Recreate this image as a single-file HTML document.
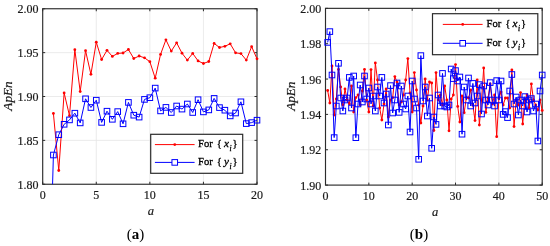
<!DOCTYPE html>
<html><head><meta charset="utf-8"><title>ApEn plots</title>
<style>
html,body{margin:0;padding:0;background:#fff;}
body{width:550px;height:246px;overflow:hidden;}
svg{display:block;}
.t{font-family:"Liberation Serif",serif;font-size:12.9px;fill:#1a1a1a;stroke:#1a1a1a;stroke-width:0.2px;}
.it{font-family:"Liberation Serif",serif;font-style:italic;font-size:12.5px;fill:#1a1a1a;stroke:#1a1a1a;stroke-width:0.2px;}
.yl{font-size:13.2px;}
.lg{font-family:"Liberation Serif",serif;font-size:10.6px;fill:#000;stroke:#000;stroke-width:0.3px;}
.li{font-style:italic;font-size:11.2px;}
.sub{font-size:7.6px;}
.cap{font-family:"Liberation Serif",serif;font-size:15px;fill:#000;}
.bd{font-weight:bold;}
</style></head>
<body>
<svg width="550" height="246" viewBox="0 0 550 246">
<defs>
<clipPath id="cl"><rect x="37.7" y="3.75" width="224.3" height="180.5"/></clipPath>
<clipPath id="cr"><rect x="320.5" y="3.3499999999999996" width="226.70000000000005" height="186.75"/></clipPath>
</defs>
<line x1="96.28" y1="8.75" x2="96.28" y2="184.25" stroke="#e6e6e6" stroke-width="0.8"/>
<line x1="149.85" y1="8.75" x2="149.85" y2="184.25" stroke="#e6e6e6" stroke-width="0.8"/>
<line x1="203.43" y1="8.75" x2="203.43" y2="184.25" stroke="#e6e6e6" stroke-width="0.8"/>
<line x1="42.7" y1="52.63" x2="257" y2="52.63" stroke="#e6e6e6" stroke-width="0.8"/>
<line x1="42.7" y1="96.5" x2="257" y2="96.5" stroke="#e6e6e6" stroke-width="0.8"/>
<line x1="42.7" y1="140.37" x2="257" y2="140.37" stroke="#e6e6e6" stroke-width="0.8"/>
<line x1="368.84" y1="8.35" x2="368.84" y2="185.1" stroke="#e6e6e6" stroke-width="0.8"/>
<line x1="412.18" y1="8.35" x2="412.18" y2="185.1" stroke="#e6e6e6" stroke-width="0.8"/>
<line x1="455.52" y1="8.35" x2="455.52" y2="185.1" stroke="#e6e6e6" stroke-width="0.8"/>
<line x1="498.86" y1="8.35" x2="498.86" y2="185.1" stroke="#e6e6e6" stroke-width="0.8"/>
<line x1="325.5" y1="43.7" x2="542.2" y2="43.7" stroke="#e6e6e6" stroke-width="0.8"/>
<line x1="325.5" y1="79.05" x2="542.2" y2="79.05" stroke="#e6e6e6" stroke-width="0.8"/>
<line x1="325.5" y1="114.4" x2="542.2" y2="114.4" stroke="#e6e6e6" stroke-width="0.8"/>
<line x1="325.5" y1="149.75" x2="542.2" y2="149.75" stroke="#e6e6e6" stroke-width="0.8"/>
<rect x="42.7" y="8.75" width="214.3" height="175.5" fill="none" stroke="#2c2c2c" stroke-width="1.15"/>
<line x1="42.7" y1="184.25" x2="42.7" y2="181.75" stroke="#2c2c2c" stroke-width="1"/>
<line x1="42.7" y1="8.75" x2="42.7" y2="11.25" stroke="#2c2c2c" stroke-width="1"/>
<line x1="96.28" y1="184.25" x2="96.28" y2="181.75" stroke="#2c2c2c" stroke-width="1"/>
<line x1="96.28" y1="8.75" x2="96.28" y2="11.25" stroke="#2c2c2c" stroke-width="1"/>
<line x1="149.85" y1="184.25" x2="149.85" y2="181.75" stroke="#2c2c2c" stroke-width="1"/>
<line x1="149.85" y1="8.75" x2="149.85" y2="11.25" stroke="#2c2c2c" stroke-width="1"/>
<line x1="203.43" y1="184.25" x2="203.43" y2="181.75" stroke="#2c2c2c" stroke-width="1"/>
<line x1="203.43" y1="8.75" x2="203.43" y2="11.25" stroke="#2c2c2c" stroke-width="1"/>
<line x1="257" y1="184.25" x2="257" y2="181.75" stroke="#2c2c2c" stroke-width="1"/>
<line x1="257" y1="8.75" x2="257" y2="11.25" stroke="#2c2c2c" stroke-width="1"/>
<line x1="42.7" y1="8.75" x2="45.2" y2="8.75" stroke="#2c2c2c" stroke-width="1"/>
<line x1="257" y1="8.75" x2="254.5" y2="8.75" stroke="#2c2c2c" stroke-width="1"/>
<line x1="42.7" y1="52.63" x2="45.2" y2="52.63" stroke="#2c2c2c" stroke-width="1"/>
<line x1="257" y1="52.63" x2="254.5" y2="52.63" stroke="#2c2c2c" stroke-width="1"/>
<line x1="42.7" y1="96.5" x2="45.2" y2="96.5" stroke="#2c2c2c" stroke-width="1"/>
<line x1="257" y1="96.5" x2="254.5" y2="96.5" stroke="#2c2c2c" stroke-width="1"/>
<line x1="42.7" y1="140.37" x2="45.2" y2="140.37" stroke="#2c2c2c" stroke-width="1"/>
<line x1="257" y1="140.37" x2="254.5" y2="140.37" stroke="#2c2c2c" stroke-width="1"/>
<line x1="42.7" y1="184.25" x2="45.2" y2="184.25" stroke="#2c2c2c" stroke-width="1"/>
<line x1="257" y1="184.25" x2="254.5" y2="184.25" stroke="#2c2c2c" stroke-width="1"/>
<rect x="325.5" y="8.35" width="216.7" height="176.75" fill="none" stroke="#2c2c2c" stroke-width="1.15"/>
<line x1="325.5" y1="185.1" x2="325.5" y2="182.6" stroke="#2c2c2c" stroke-width="1"/>
<line x1="325.5" y1="8.35" x2="325.5" y2="10.85" stroke="#2c2c2c" stroke-width="1"/>
<line x1="368.84" y1="185.1" x2="368.84" y2="182.6" stroke="#2c2c2c" stroke-width="1"/>
<line x1="368.84" y1="8.35" x2="368.84" y2="10.85" stroke="#2c2c2c" stroke-width="1"/>
<line x1="412.18" y1="185.1" x2="412.18" y2="182.6" stroke="#2c2c2c" stroke-width="1"/>
<line x1="412.18" y1="8.35" x2="412.18" y2="10.85" stroke="#2c2c2c" stroke-width="1"/>
<line x1="455.52" y1="185.1" x2="455.52" y2="182.6" stroke="#2c2c2c" stroke-width="1"/>
<line x1="455.52" y1="8.35" x2="455.52" y2="10.85" stroke="#2c2c2c" stroke-width="1"/>
<line x1="498.86" y1="185.1" x2="498.86" y2="182.6" stroke="#2c2c2c" stroke-width="1"/>
<line x1="498.86" y1="8.35" x2="498.86" y2="10.85" stroke="#2c2c2c" stroke-width="1"/>
<line x1="542.2" y1="185.1" x2="542.2" y2="182.6" stroke="#2c2c2c" stroke-width="1"/>
<line x1="542.2" y1="8.35" x2="542.2" y2="10.85" stroke="#2c2c2c" stroke-width="1"/>
<line x1="325.5" y1="8.35" x2="328" y2="8.35" stroke="#2c2c2c" stroke-width="1"/>
<line x1="542.2" y1="8.35" x2="539.7" y2="8.35" stroke="#2c2c2c" stroke-width="1"/>
<line x1="325.5" y1="43.7" x2="328" y2="43.7" stroke="#2c2c2c" stroke-width="1"/>
<line x1="542.2" y1="43.7" x2="539.7" y2="43.7" stroke="#2c2c2c" stroke-width="1"/>
<line x1="325.5" y1="79.05" x2="328" y2="79.05" stroke="#2c2c2c" stroke-width="1"/>
<line x1="542.2" y1="79.05" x2="539.7" y2="79.05" stroke="#2c2c2c" stroke-width="1"/>
<line x1="325.5" y1="114.4" x2="328" y2="114.4" stroke="#2c2c2c" stroke-width="1"/>
<line x1="542.2" y1="114.4" x2="539.7" y2="114.4" stroke="#2c2c2c" stroke-width="1"/>
<line x1="325.5" y1="149.75" x2="328" y2="149.75" stroke="#2c2c2c" stroke-width="1"/>
<line x1="542.2" y1="149.75" x2="539.7" y2="149.75" stroke="#2c2c2c" stroke-width="1"/>
<line x1="325.5" y1="185.1" x2="328" y2="185.1" stroke="#2c2c2c" stroke-width="1"/>
<line x1="542.2" y1="185.1" x2="539.7" y2="185.1" stroke="#2c2c2c" stroke-width="1"/>
<g clip-path="url(#cl)"><path d="M53.42 113.5 L58.77 170.5 L64.13 92.9 L69.49 115.7 L74.84 49.7 L80.2 91.6 L85.56 50.7 L90.92 74.3 L96.28 42.2 L101.63 59.5 L106.99 50.3 L112.35 56.4 L117.71 53.4 L123.06 53 L128.42 49.5 L133.78 58.5 L139.13 56 L144.49 57.8 L149.85 61.7 L155.21 78.2 L160.56 54.4 L165.92 39.8 L171.28 51.1 L176.64 42.8 L182 53.2 L187.35 60.1 L192.71 53.4 L198.07 60.9 L203.43 63.5 L208.78 61.5 L214.14 43.4 L219.5 47.5 L224.86 46.3 L230.21 43.8 L235.57 52.8 L240.93 53.6 L246.29 60.1 L251.64 46.7 L257 58.8" fill="none" stroke="#f00" stroke-width="1" stroke-linejoin="round"/>
<circle cx="53.42" cy="113.5" r="1.4" fill="#f00"/>
<circle cx="58.77" cy="170.5" r="1.4" fill="#f00"/>
<circle cx="64.13" cy="92.9" r="1.4" fill="#f00"/>
<circle cx="69.49" cy="115.7" r="1.4" fill="#f00"/>
<circle cx="74.84" cy="49.7" r="1.4" fill="#f00"/>
<circle cx="80.2" cy="91.6" r="1.4" fill="#f00"/>
<circle cx="85.56" cy="50.7" r="1.4" fill="#f00"/>
<circle cx="90.92" cy="74.3" r="1.4" fill="#f00"/>
<circle cx="96.28" cy="42.2" r="1.4" fill="#f00"/>
<circle cx="101.63" cy="59.5" r="1.4" fill="#f00"/>
<circle cx="106.99" cy="50.3" r="1.4" fill="#f00"/>
<circle cx="112.35" cy="56.4" r="1.4" fill="#f00"/>
<circle cx="117.71" cy="53.4" r="1.4" fill="#f00"/>
<circle cx="123.06" cy="53" r="1.4" fill="#f00"/>
<circle cx="128.42" cy="49.5" r="1.4" fill="#f00"/>
<circle cx="133.78" cy="58.5" r="1.4" fill="#f00"/>
<circle cx="139.13" cy="56" r="1.4" fill="#f00"/>
<circle cx="144.49" cy="57.8" r="1.4" fill="#f00"/>
<circle cx="149.85" cy="61.7" r="1.4" fill="#f00"/>
<circle cx="155.21" cy="78.2" r="1.4" fill="#f00"/>
<circle cx="160.56" cy="54.4" r="1.4" fill="#f00"/>
<circle cx="165.92" cy="39.8" r="1.4" fill="#f00"/>
<circle cx="171.28" cy="51.1" r="1.4" fill="#f00"/>
<circle cx="176.64" cy="42.8" r="1.4" fill="#f00"/>
<circle cx="182" cy="53.2" r="1.4" fill="#f00"/>
<circle cx="187.35" cy="60.1" r="1.4" fill="#f00"/>
<circle cx="192.71" cy="53.4" r="1.4" fill="#f00"/>
<circle cx="198.07" cy="60.9" r="1.4" fill="#f00"/>
<circle cx="203.43" cy="63.5" r="1.4" fill="#f00"/>
<circle cx="208.78" cy="61.5" r="1.4" fill="#f00"/>
<circle cx="214.14" cy="43.4" r="1.4" fill="#f00"/>
<circle cx="219.5" cy="47.5" r="1.4" fill="#f00"/>
<circle cx="224.86" cy="46.3" r="1.4" fill="#f00"/>
<circle cx="230.21" cy="43.8" r="1.4" fill="#f00"/>
<circle cx="235.57" cy="52.8" r="1.4" fill="#f00"/>
<circle cx="240.93" cy="53.6" r="1.4" fill="#f00"/>
<circle cx="246.29" cy="60.1" r="1.4" fill="#f00"/>
<circle cx="251.64" cy="46.7" r="1.4" fill="#f00"/>
<circle cx="257" cy="58.8" r="1.4" fill="#f00"/>
</g>
<g clip-path="url(#cl)"><path d="M52.4 190 L53.42 155 L58.77 134.7 L64.13 124.3 L69.49 119.9 L74.84 113.2 L80.2 122.9 L85.56 98.8 L90.92 107.5 L96.28 100.2 L101.63 122.4 L106.99 111.2 L112.35 119.3 L117.71 111.6 L123.06 123.8 L128.42 102.4 L133.78 115.2 L139.13 117.1 L144.49 99.4 L149.85 97.7 L155.21 88.1 L160.56 110.9 L165.92 107.4 L171.28 112.5 L176.64 106 L182 109.1 L187.35 104 L192.71 112.5 L198.07 99.7 L203.43 111.9 L208.78 109.9 L214.14 98.4 L219.5 107.6 L224.86 110.2 L230.21 115.9 L235.57 113 L240.93 101.8 L246.29 123.6 L251.64 122.6 L257 120.2" fill="none" stroke="#00f" stroke-width="1" stroke-linejoin="round"/>
<rect x="50.62" y="152.2" width="5.6" height="5.6" fill="none" stroke="#00f" stroke-width="1"/>
<rect x="55.97" y="131.9" width="5.6" height="5.6" fill="none" stroke="#00f" stroke-width="1"/>
<rect x="61.33" y="121.5" width="5.6" height="5.6" fill="none" stroke="#00f" stroke-width="1"/>
<rect x="66.69" y="117.1" width="5.6" height="5.6" fill="none" stroke="#00f" stroke-width="1"/>
<rect x="72.05" y="110.4" width="5.6" height="5.6" fill="none" stroke="#00f" stroke-width="1"/>
<rect x="77.4" y="120.1" width="5.6" height="5.6" fill="none" stroke="#00f" stroke-width="1"/>
<rect x="82.76" y="96" width="5.6" height="5.6" fill="none" stroke="#00f" stroke-width="1"/>
<rect x="88.12" y="104.7" width="5.6" height="5.6" fill="none" stroke="#00f" stroke-width="1"/>
<rect x="93.48" y="97.4" width="5.6" height="5.6" fill="none" stroke="#00f" stroke-width="1"/>
<rect x="98.83" y="119.6" width="5.6" height="5.6" fill="none" stroke="#00f" stroke-width="1"/>
<rect x="104.19" y="108.4" width="5.6" height="5.6" fill="none" stroke="#00f" stroke-width="1"/>
<rect x="109.55" y="116.5" width="5.6" height="5.6" fill="none" stroke="#00f" stroke-width="1"/>
<rect x="114.91" y="108.8" width="5.6" height="5.6" fill="none" stroke="#00f" stroke-width="1"/>
<rect x="120.26" y="121" width="5.6" height="5.6" fill="none" stroke="#00f" stroke-width="1"/>
<rect x="125.62" y="99.6" width="5.6" height="5.6" fill="none" stroke="#00f" stroke-width="1"/>
<rect x="130.98" y="112.4" width="5.6" height="5.6" fill="none" stroke="#00f" stroke-width="1"/>
<rect x="136.33" y="114.3" width="5.6" height="5.6" fill="none" stroke="#00f" stroke-width="1"/>
<rect x="141.69" y="96.6" width="5.6" height="5.6" fill="none" stroke="#00f" stroke-width="1"/>
<rect x="147.05" y="94.9" width="5.6" height="5.6" fill="none" stroke="#00f" stroke-width="1"/>
<rect x="152.41" y="85.3" width="5.6" height="5.6" fill="none" stroke="#00f" stroke-width="1"/>
<rect x="157.76" y="108.1" width="5.6" height="5.6" fill="none" stroke="#00f" stroke-width="1"/>
<rect x="163.12" y="104.6" width="5.6" height="5.6" fill="none" stroke="#00f" stroke-width="1"/>
<rect x="168.48" y="109.7" width="5.6" height="5.6" fill="none" stroke="#00f" stroke-width="1"/>
<rect x="173.84" y="103.2" width="5.6" height="5.6" fill="none" stroke="#00f" stroke-width="1"/>
<rect x="179.19" y="106.3" width="5.6" height="5.6" fill="none" stroke="#00f" stroke-width="1"/>
<rect x="184.55" y="101.2" width="5.6" height="5.6" fill="none" stroke="#00f" stroke-width="1"/>
<rect x="189.91" y="109.7" width="5.6" height="5.6" fill="none" stroke="#00f" stroke-width="1"/>
<rect x="195.27" y="96.9" width="5.6" height="5.6" fill="none" stroke="#00f" stroke-width="1"/>
<rect x="200.62" y="109.1" width="5.6" height="5.6" fill="none" stroke="#00f" stroke-width="1"/>
<rect x="205.98" y="107.1" width="5.6" height="5.6" fill="none" stroke="#00f" stroke-width="1"/>
<rect x="211.34" y="95.6" width="5.6" height="5.6" fill="none" stroke="#00f" stroke-width="1"/>
<rect x="216.7" y="104.8" width="5.6" height="5.6" fill="none" stroke="#00f" stroke-width="1"/>
<rect x="222.06" y="107.4" width="5.6" height="5.6" fill="none" stroke="#00f" stroke-width="1"/>
<rect x="227.41" y="113.1" width="5.6" height="5.6" fill="none" stroke="#00f" stroke-width="1"/>
<rect x="232.77" y="110.2" width="5.6" height="5.6" fill="none" stroke="#00f" stroke-width="1"/>
<rect x="238.13" y="99" width="5.6" height="5.6" fill="none" stroke="#00f" stroke-width="1"/>
<rect x="243.49" y="120.8" width="5.6" height="5.6" fill="none" stroke="#00f" stroke-width="1"/>
<rect x="248.84" y="119.8" width="5.6" height="5.6" fill="none" stroke="#00f" stroke-width="1"/>
<rect x="254.2" y="117.4" width="5.6" height="5.6" fill="none" stroke="#00f" stroke-width="1"/>
</g>
<g clip-path="url(#cr)"><path d="M327.67 90.5 L329.83 103 L332 66 L334.17 115 L336.33 99 L338.5 69.4 L340.67 87 L342.84 105 L345 89 L347.17 100 L349.34 104 L351.5 86 L353.67 112 L355.84 97.6 L358 95 L360.17 105 L362.34 91 L364.51 69.4 L366.67 100 L368.84 112 L371.01 69.6 L373.17 106 L375.34 63 L377.51 80 L379.68 108 L381.84 120 L384.01 104 L386.18 89 L388.34 117 L390.51 100 L392.68 97.7 L394.84 76.6 L397.01 82 L399.18 105 L401.35 102 L403.51 95 L405.68 80 L407.85 58.6 L410.01 93 L412.18 112 L414.35 72.6 L416.51 90 L418.68 105 L420.85 123 L423.01 106 L425.18 79 L427.35 100 L429.52 82 L431.68 83 L433.85 130.5 L436.02 72.6 L438.18 100 L440.35 95 L442.52 105 L444.69 86 L446.85 100 L449.02 130.8 L451.19 99 L453.35 95 L455.52 64.6 L457.69 106.4 L459.85 122 L462.02 96 L464.19 112.7 L466.36 97.6 L468.52 98 L470.69 90 L472.86 105 L475.02 120.6 L477.19 80 L479.36 125 L481.52 100 L483.69 68 L485.86 112.4 L488.03 98 L490.19 84 L492.36 104 L494.53 95 L496.69 136.7 L498.86 98.6 L501.03 92 L503.19 105 L505.36 98 L507.53 98 L509.7 108 L511.86 70 L514.03 126.6 L516.2 100 L518.36 105 L520.53 92.6 L522.7 124 L524.86 100 L527.03 95 L529.2 108 L531.37 84 L533.53 100 L535.7 105 L537.87 110 L540.03 100 L542.2 110.4" fill="none" stroke="#f00" stroke-width="1" stroke-linejoin="round"/>
<circle cx="327.67" cy="90.5" r="1.4" fill="#f00"/>
<circle cx="329.83" cy="103" r="1.4" fill="#f00"/>
<circle cx="332" cy="66" r="1.4" fill="#f00"/>
<circle cx="334.17" cy="115" r="1.4" fill="#f00"/>
<circle cx="336.33" cy="99" r="1.4" fill="#f00"/>
<circle cx="338.5" cy="69.4" r="1.4" fill="#f00"/>
<circle cx="340.67" cy="87" r="1.4" fill="#f00"/>
<circle cx="342.84" cy="105" r="1.4" fill="#f00"/>
<circle cx="345" cy="89" r="1.4" fill="#f00"/>
<circle cx="347.17" cy="100" r="1.4" fill="#f00"/>
<circle cx="349.34" cy="104" r="1.4" fill="#f00"/>
<circle cx="351.5" cy="86" r="1.4" fill="#f00"/>
<circle cx="353.67" cy="112" r="1.4" fill="#f00"/>
<circle cx="355.84" cy="97.6" r="1.4" fill="#f00"/>
<circle cx="358" cy="95" r="1.4" fill="#f00"/>
<circle cx="360.17" cy="105" r="1.4" fill="#f00"/>
<circle cx="362.34" cy="91" r="1.4" fill="#f00"/>
<circle cx="364.51" cy="69.4" r="1.4" fill="#f00"/>
<circle cx="366.67" cy="100" r="1.4" fill="#f00"/>
<circle cx="368.84" cy="112" r="1.4" fill="#f00"/>
<circle cx="371.01" cy="69.6" r="1.4" fill="#f00"/>
<circle cx="373.17" cy="106" r="1.4" fill="#f00"/>
<circle cx="375.34" cy="63" r="1.4" fill="#f00"/>
<circle cx="377.51" cy="80" r="1.4" fill="#f00"/>
<circle cx="379.68" cy="108" r="1.4" fill="#f00"/>
<circle cx="381.84" cy="120" r="1.4" fill="#f00"/>
<circle cx="384.01" cy="104" r="1.4" fill="#f00"/>
<circle cx="386.18" cy="89" r="1.4" fill="#f00"/>
<circle cx="388.34" cy="117" r="1.4" fill="#f00"/>
<circle cx="390.51" cy="100" r="1.4" fill="#f00"/>
<circle cx="392.68" cy="97.7" r="1.4" fill="#f00"/>
<circle cx="394.84" cy="76.6" r="1.4" fill="#f00"/>
<circle cx="397.01" cy="82" r="1.4" fill="#f00"/>
<circle cx="399.18" cy="105" r="1.4" fill="#f00"/>
<circle cx="401.35" cy="102" r="1.4" fill="#f00"/>
<circle cx="403.51" cy="95" r="1.4" fill="#f00"/>
<circle cx="405.68" cy="80" r="1.4" fill="#f00"/>
<circle cx="407.85" cy="58.6" r="1.4" fill="#f00"/>
<circle cx="410.01" cy="93" r="1.4" fill="#f00"/>
<circle cx="412.18" cy="112" r="1.4" fill="#f00"/>
<circle cx="414.35" cy="72.6" r="1.4" fill="#f00"/>
<circle cx="416.51" cy="90" r="1.4" fill="#f00"/>
<circle cx="418.68" cy="105" r="1.4" fill="#f00"/>
<circle cx="420.85" cy="123" r="1.4" fill="#f00"/>
<circle cx="423.01" cy="106" r="1.4" fill="#f00"/>
<circle cx="425.18" cy="79" r="1.4" fill="#f00"/>
<circle cx="427.35" cy="100" r="1.4" fill="#f00"/>
<circle cx="429.52" cy="82" r="1.4" fill="#f00"/>
<circle cx="431.68" cy="83" r="1.4" fill="#f00"/>
<circle cx="433.85" cy="130.5" r="1.4" fill="#f00"/>
<circle cx="436.02" cy="72.6" r="1.4" fill="#f00"/>
<circle cx="438.18" cy="100" r="1.4" fill="#f00"/>
<circle cx="440.35" cy="95" r="1.4" fill="#f00"/>
<circle cx="442.52" cy="105" r="1.4" fill="#f00"/>
<circle cx="444.69" cy="86" r="1.4" fill="#f00"/>
<circle cx="446.85" cy="100" r="1.4" fill="#f00"/>
<circle cx="449.02" cy="130.8" r="1.4" fill="#f00"/>
<circle cx="451.19" cy="99" r="1.4" fill="#f00"/>
<circle cx="453.35" cy="95" r="1.4" fill="#f00"/>
<circle cx="455.52" cy="64.6" r="1.4" fill="#f00"/>
<circle cx="457.69" cy="106.4" r="1.4" fill="#f00"/>
<circle cx="459.85" cy="122" r="1.4" fill="#f00"/>
<circle cx="462.02" cy="96" r="1.4" fill="#f00"/>
<circle cx="464.19" cy="112.7" r="1.4" fill="#f00"/>
<circle cx="466.36" cy="97.6" r="1.4" fill="#f00"/>
<circle cx="468.52" cy="98" r="1.4" fill="#f00"/>
<circle cx="470.69" cy="90" r="1.4" fill="#f00"/>
<circle cx="472.86" cy="105" r="1.4" fill="#f00"/>
<circle cx="475.02" cy="120.6" r="1.4" fill="#f00"/>
<circle cx="477.19" cy="80" r="1.4" fill="#f00"/>
<circle cx="479.36" cy="125" r="1.4" fill="#f00"/>
<circle cx="481.52" cy="100" r="1.4" fill="#f00"/>
<circle cx="483.69" cy="68" r="1.4" fill="#f00"/>
<circle cx="485.86" cy="112.4" r="1.4" fill="#f00"/>
<circle cx="488.03" cy="98" r="1.4" fill="#f00"/>
<circle cx="490.19" cy="84" r="1.4" fill="#f00"/>
<circle cx="492.36" cy="104" r="1.4" fill="#f00"/>
<circle cx="494.53" cy="95" r="1.4" fill="#f00"/>
<circle cx="496.69" cy="136.7" r="1.4" fill="#f00"/>
<circle cx="498.86" cy="98.6" r="1.4" fill="#f00"/>
<circle cx="501.03" cy="92" r="1.4" fill="#f00"/>
<circle cx="503.19" cy="105" r="1.4" fill="#f00"/>
<circle cx="505.36" cy="98" r="1.4" fill="#f00"/>
<circle cx="507.53" cy="98" r="1.4" fill="#f00"/>
<circle cx="509.7" cy="108" r="1.4" fill="#f00"/>
<circle cx="511.86" cy="70" r="1.4" fill="#f00"/>
<circle cx="514.03" cy="126.6" r="1.4" fill="#f00"/>
<circle cx="516.2" cy="100" r="1.4" fill="#f00"/>
<circle cx="518.36" cy="105" r="1.4" fill="#f00"/>
<circle cx="520.53" cy="92.6" r="1.4" fill="#f00"/>
<circle cx="522.7" cy="124" r="1.4" fill="#f00"/>
<circle cx="524.86" cy="100" r="1.4" fill="#f00"/>
<circle cx="527.03" cy="95" r="1.4" fill="#f00"/>
<circle cx="529.2" cy="108" r="1.4" fill="#f00"/>
<circle cx="531.37" cy="84" r="1.4" fill="#f00"/>
<circle cx="533.53" cy="100" r="1.4" fill="#f00"/>
<circle cx="535.7" cy="105" r="1.4" fill="#f00"/>
<circle cx="537.87" cy="110" r="1.4" fill="#f00"/>
<circle cx="540.03" cy="100" r="1.4" fill="#f00"/>
<circle cx="542.2" cy="110.4" r="1.4" fill="#f00"/>
</g>
<g clip-path="url(#cr)"><path d="M327.67 42.4 L329.83 31.6 L332 75 L334.17 137.6 L336.33 106 L338.5 63.3 L340.67 98 L342.84 111 L345 100 L347.17 98 L349.34 77.4 L351.5 108 L353.67 76 L355.84 137.7 L358 104 L360.17 85 L362.34 102 L364.51 76 L366.67 99 L368.84 88 L371.01 104 L373.17 96 L375.34 111 L377.51 87 L379.68 96 L381.84 77.4 L384.01 103 L386.18 94 L388.34 125 L390.51 85.6 L392.68 113 L394.84 100 L397.01 83 L399.18 112.4 L401.35 86 L403.51 104 L405.68 109 L407.85 96 L410.01 132 L412.18 81 L414.35 99 L416.51 108 L418.68 159.3 L420.85 55.6 L423.01 101 L425.18 87 L427.35 116 L429.52 98 L431.68 148.3 L433.85 117 L436.02 124.4 L438.18 95 L440.35 106 L442.52 73.4 L444.69 106 L446.85 107 L449.02 105 L451.19 69 L453.35 78.6 L455.52 70.6 L457.69 81 L459.85 77 L462.02 134.2 L464.19 87 L466.36 100 L468.52 78 L470.69 106 L472.86 83.4 L475.02 103 L477.19 96 L479.36 84.6 L481.52 114 L483.69 86 L485.86 100 L488.03 105 L490.19 82.6 L492.36 100 L494.53 106 L496.69 80.6 L498.86 100 L501.03 81 L503.19 114.4 L505.36 111.6 L507.53 117.6 L509.7 91 L511.86 74.5 L514.03 104 L516.2 97 L518.36 115 L520.53 100 L522.7 106 L524.86 96.6 L527.03 112 L529.2 100 L531.37 98.6 L533.53 111 L535.7 104 L537.87 141 L540.03 91 L542.2 75" fill="none" stroke="#00f" stroke-width="1" stroke-linejoin="round"/>
<rect x="324.87" y="39.6" width="5.6" height="5.6" fill="none" stroke="#00f" stroke-width="1"/>
<rect x="327.03" y="28.8" width="5.6" height="5.6" fill="none" stroke="#00f" stroke-width="1"/>
<rect x="329.2" y="72.2" width="5.6" height="5.6" fill="none" stroke="#00f" stroke-width="1"/>
<rect x="331.37" y="134.8" width="5.6" height="5.6" fill="none" stroke="#00f" stroke-width="1"/>
<rect x="333.53" y="103.2" width="5.6" height="5.6" fill="none" stroke="#00f" stroke-width="1"/>
<rect x="335.7" y="60.5" width="5.6" height="5.6" fill="none" stroke="#00f" stroke-width="1"/>
<rect x="337.87" y="95.2" width="5.6" height="5.6" fill="none" stroke="#00f" stroke-width="1"/>
<rect x="340.04" y="108.2" width="5.6" height="5.6" fill="none" stroke="#00f" stroke-width="1"/>
<rect x="342.2" y="97.2" width="5.6" height="5.6" fill="none" stroke="#00f" stroke-width="1"/>
<rect x="344.37" y="95.2" width="5.6" height="5.6" fill="none" stroke="#00f" stroke-width="1"/>
<rect x="346.54" y="74.6" width="5.6" height="5.6" fill="none" stroke="#00f" stroke-width="1"/>
<rect x="348.7" y="105.2" width="5.6" height="5.6" fill="none" stroke="#00f" stroke-width="1"/>
<rect x="350.87" y="73.2" width="5.6" height="5.6" fill="none" stroke="#00f" stroke-width="1"/>
<rect x="353.04" y="134.9" width="5.6" height="5.6" fill="none" stroke="#00f" stroke-width="1"/>
<rect x="355.2" y="101.2" width="5.6" height="5.6" fill="none" stroke="#00f" stroke-width="1"/>
<rect x="357.37" y="82.2" width="5.6" height="5.6" fill="none" stroke="#00f" stroke-width="1"/>
<rect x="359.54" y="99.2" width="5.6" height="5.6" fill="none" stroke="#00f" stroke-width="1"/>
<rect x="361.71" y="73.2" width="5.6" height="5.6" fill="none" stroke="#00f" stroke-width="1"/>
<rect x="363.87" y="96.2" width="5.6" height="5.6" fill="none" stroke="#00f" stroke-width="1"/>
<rect x="366.04" y="85.2" width="5.6" height="5.6" fill="none" stroke="#00f" stroke-width="1"/>
<rect x="368.21" y="101.2" width="5.6" height="5.6" fill="none" stroke="#00f" stroke-width="1"/>
<rect x="370.37" y="93.2" width="5.6" height="5.6" fill="none" stroke="#00f" stroke-width="1"/>
<rect x="372.54" y="108.2" width="5.6" height="5.6" fill="none" stroke="#00f" stroke-width="1"/>
<rect x="374.71" y="84.2" width="5.6" height="5.6" fill="none" stroke="#00f" stroke-width="1"/>
<rect x="376.88" y="93.2" width="5.6" height="5.6" fill="none" stroke="#00f" stroke-width="1"/>
<rect x="379.04" y="74.6" width="5.6" height="5.6" fill="none" stroke="#00f" stroke-width="1"/>
<rect x="381.21" y="100.2" width="5.6" height="5.6" fill="none" stroke="#00f" stroke-width="1"/>
<rect x="383.38" y="91.2" width="5.6" height="5.6" fill="none" stroke="#00f" stroke-width="1"/>
<rect x="385.54" y="122.2" width="5.6" height="5.6" fill="none" stroke="#00f" stroke-width="1"/>
<rect x="387.71" y="82.8" width="5.6" height="5.6" fill="none" stroke="#00f" stroke-width="1"/>
<rect x="389.88" y="110.2" width="5.6" height="5.6" fill="none" stroke="#00f" stroke-width="1"/>
<rect x="392.04" y="97.2" width="5.6" height="5.6" fill="none" stroke="#00f" stroke-width="1"/>
<rect x="394.21" y="80.2" width="5.6" height="5.6" fill="none" stroke="#00f" stroke-width="1"/>
<rect x="396.38" y="109.6" width="5.6" height="5.6" fill="none" stroke="#00f" stroke-width="1"/>
<rect x="398.55" y="83.2" width="5.6" height="5.6" fill="none" stroke="#00f" stroke-width="1"/>
<rect x="400.71" y="101.2" width="5.6" height="5.6" fill="none" stroke="#00f" stroke-width="1"/>
<rect x="402.88" y="106.2" width="5.6" height="5.6" fill="none" stroke="#00f" stroke-width="1"/>
<rect x="405.05" y="93.2" width="5.6" height="5.6" fill="none" stroke="#00f" stroke-width="1"/>
<rect x="407.21" y="129.2" width="5.6" height="5.6" fill="none" stroke="#00f" stroke-width="1"/>
<rect x="409.38" y="78.2" width="5.6" height="5.6" fill="none" stroke="#00f" stroke-width="1"/>
<rect x="411.55" y="96.2" width="5.6" height="5.6" fill="none" stroke="#00f" stroke-width="1"/>
<rect x="413.71" y="105.2" width="5.6" height="5.6" fill="none" stroke="#00f" stroke-width="1"/>
<rect x="415.88" y="156.5" width="5.6" height="5.6" fill="none" stroke="#00f" stroke-width="1"/>
<rect x="418.05" y="52.8" width="5.6" height="5.6" fill="none" stroke="#00f" stroke-width="1"/>
<rect x="420.21" y="98.2" width="5.6" height="5.6" fill="none" stroke="#00f" stroke-width="1"/>
<rect x="422.38" y="84.2" width="5.6" height="5.6" fill="none" stroke="#00f" stroke-width="1"/>
<rect x="424.55" y="113.2" width="5.6" height="5.6" fill="none" stroke="#00f" stroke-width="1"/>
<rect x="426.72" y="95.2" width="5.6" height="5.6" fill="none" stroke="#00f" stroke-width="1"/>
<rect x="428.88" y="145.5" width="5.6" height="5.6" fill="none" stroke="#00f" stroke-width="1"/>
<rect x="431.05" y="114.2" width="5.6" height="5.6" fill="none" stroke="#00f" stroke-width="1"/>
<rect x="433.22" y="121.6" width="5.6" height="5.6" fill="none" stroke="#00f" stroke-width="1"/>
<rect x="435.38" y="92.2" width="5.6" height="5.6" fill="none" stroke="#00f" stroke-width="1"/>
<rect x="437.55" y="103.2" width="5.6" height="5.6" fill="none" stroke="#00f" stroke-width="1"/>
<rect x="439.72" y="70.6" width="5.6" height="5.6" fill="none" stroke="#00f" stroke-width="1"/>
<rect x="441.88" y="103.2" width="5.6" height="5.6" fill="none" stroke="#00f" stroke-width="1"/>
<rect x="444.05" y="104.2" width="5.6" height="5.6" fill="none" stroke="#00f" stroke-width="1"/>
<rect x="446.22" y="102.2" width="5.6" height="5.6" fill="none" stroke="#00f" stroke-width="1"/>
<rect x="448.39" y="66.2" width="5.6" height="5.6" fill="none" stroke="#00f" stroke-width="1"/>
<rect x="450.55" y="75.8" width="5.6" height="5.6" fill="none" stroke="#00f" stroke-width="1"/>
<rect x="452.72" y="67.8" width="5.6" height="5.6" fill="none" stroke="#00f" stroke-width="1"/>
<rect x="454.89" y="78.2" width="5.6" height="5.6" fill="none" stroke="#00f" stroke-width="1"/>
<rect x="457.05" y="74.2" width="5.6" height="5.6" fill="none" stroke="#00f" stroke-width="1"/>
<rect x="459.22" y="131.4" width="5.6" height="5.6" fill="none" stroke="#00f" stroke-width="1"/>
<rect x="461.39" y="84.2" width="5.6" height="5.6" fill="none" stroke="#00f" stroke-width="1"/>
<rect x="463.56" y="97.2" width="5.6" height="5.6" fill="none" stroke="#00f" stroke-width="1"/>
<rect x="465.72" y="75.2" width="5.6" height="5.6" fill="none" stroke="#00f" stroke-width="1"/>
<rect x="467.89" y="103.2" width="5.6" height="5.6" fill="none" stroke="#00f" stroke-width="1"/>
<rect x="470.06" y="80.6" width="5.6" height="5.6" fill="none" stroke="#00f" stroke-width="1"/>
<rect x="472.22" y="100.2" width="5.6" height="5.6" fill="none" stroke="#00f" stroke-width="1"/>
<rect x="474.39" y="93.2" width="5.6" height="5.6" fill="none" stroke="#00f" stroke-width="1"/>
<rect x="476.56" y="81.8" width="5.6" height="5.6" fill="none" stroke="#00f" stroke-width="1"/>
<rect x="478.72" y="111.2" width="5.6" height="5.6" fill="none" stroke="#00f" stroke-width="1"/>
<rect x="480.89" y="83.2" width="5.6" height="5.6" fill="none" stroke="#00f" stroke-width="1"/>
<rect x="483.06" y="97.2" width="5.6" height="5.6" fill="none" stroke="#00f" stroke-width="1"/>
<rect x="485.23" y="102.2" width="5.6" height="5.6" fill="none" stroke="#00f" stroke-width="1"/>
<rect x="487.39" y="79.8" width="5.6" height="5.6" fill="none" stroke="#00f" stroke-width="1"/>
<rect x="489.56" y="97.2" width="5.6" height="5.6" fill="none" stroke="#00f" stroke-width="1"/>
<rect x="491.73" y="103.2" width="5.6" height="5.6" fill="none" stroke="#00f" stroke-width="1"/>
<rect x="493.89" y="77.8" width="5.6" height="5.6" fill="none" stroke="#00f" stroke-width="1"/>
<rect x="496.06" y="97.2" width="5.6" height="5.6" fill="none" stroke="#00f" stroke-width="1"/>
<rect x="498.23" y="78.2" width="5.6" height="5.6" fill="none" stroke="#00f" stroke-width="1"/>
<rect x="500.39" y="111.6" width="5.6" height="5.6" fill="none" stroke="#00f" stroke-width="1"/>
<rect x="502.56" y="108.8" width="5.6" height="5.6" fill="none" stroke="#00f" stroke-width="1"/>
<rect x="504.73" y="114.8" width="5.6" height="5.6" fill="none" stroke="#00f" stroke-width="1"/>
<rect x="506.9" y="88.2" width="5.6" height="5.6" fill="none" stroke="#00f" stroke-width="1"/>
<rect x="509.06" y="71.7" width="5.6" height="5.6" fill="none" stroke="#00f" stroke-width="1"/>
<rect x="511.23" y="101.2" width="5.6" height="5.6" fill="none" stroke="#00f" stroke-width="1"/>
<rect x="513.4" y="94.2" width="5.6" height="5.6" fill="none" stroke="#00f" stroke-width="1"/>
<rect x="515.56" y="112.2" width="5.6" height="5.6" fill="none" stroke="#00f" stroke-width="1"/>
<rect x="517.73" y="97.2" width="5.6" height="5.6" fill="none" stroke="#00f" stroke-width="1"/>
<rect x="519.9" y="103.2" width="5.6" height="5.6" fill="none" stroke="#00f" stroke-width="1"/>
<rect x="522.06" y="93.8" width="5.6" height="5.6" fill="none" stroke="#00f" stroke-width="1"/>
<rect x="524.23" y="109.2" width="5.6" height="5.6" fill="none" stroke="#00f" stroke-width="1"/>
<rect x="526.4" y="97.2" width="5.6" height="5.6" fill="none" stroke="#00f" stroke-width="1"/>
<rect x="528.57" y="95.8" width="5.6" height="5.6" fill="none" stroke="#00f" stroke-width="1"/>
<rect x="530.73" y="108.2" width="5.6" height="5.6" fill="none" stroke="#00f" stroke-width="1"/>
<rect x="532.9" y="101.2" width="5.6" height="5.6" fill="none" stroke="#00f" stroke-width="1"/>
<rect x="535.07" y="138.2" width="5.6" height="5.6" fill="none" stroke="#00f" stroke-width="1"/>
<rect x="537.23" y="88.2" width="5.6" height="5.6" fill="none" stroke="#00f" stroke-width="1"/>
<rect x="539.4" y="72.2" width="5.6" height="5.6" fill="none" stroke="#00f" stroke-width="1"/>
</g>
<text x="42.7" y="199.2" text-anchor="middle" class="t" textLength="6" lengthAdjust="spacingAndGlyphs">0</text>
<text x="96.28" y="199.2" text-anchor="middle" class="t" textLength="6" lengthAdjust="spacingAndGlyphs">5</text>
<text x="149.85" y="199.2" text-anchor="middle" class="t" textLength="12" lengthAdjust="spacingAndGlyphs">10</text>
<text x="203.43" y="199.2" text-anchor="middle" class="t" textLength="12" lengthAdjust="spacingAndGlyphs">15</text>
<text x="257" y="199.2" text-anchor="middle" class="t" textLength="12" lengthAdjust="spacingAndGlyphs">20</text>
<text x="38.6" y="13.35" text-anchor="end" class="t" textLength="21" lengthAdjust="spacingAndGlyphs">2.00</text>
<text x="38.6" y="57.23" text-anchor="end" class="t" textLength="21" lengthAdjust="spacingAndGlyphs">1.95</text>
<text x="38.6" y="101.1" text-anchor="end" class="t" textLength="21" lengthAdjust="spacingAndGlyphs">1.90</text>
<text x="38.6" y="144.97" text-anchor="end" class="t" textLength="21" lengthAdjust="spacingAndGlyphs">1.85</text>
<text x="38.6" y="188.85" text-anchor="end" class="t" textLength="21" lengthAdjust="spacingAndGlyphs">1.80</text>
<text x="11.7" y="96" text-anchor="middle" class="it yl" transform="rotate(-90 11.7 96)">ApEn</text>
<text x="150.8" y="214.5" text-anchor="middle" class="it">a</text>
<text x="325.5" y="199.5" text-anchor="middle" class="t" textLength="6" lengthAdjust="spacingAndGlyphs">0</text>
<text x="368.84" y="199.5" text-anchor="middle" class="t" textLength="12" lengthAdjust="spacingAndGlyphs">10</text>
<text x="412.18" y="199.5" text-anchor="middle" class="t" textLength="12" lengthAdjust="spacingAndGlyphs">20</text>
<text x="455.52" y="199.5" text-anchor="middle" class="t" textLength="12" lengthAdjust="spacingAndGlyphs">30</text>
<text x="498.86" y="199.5" text-anchor="middle" class="t" textLength="12" lengthAdjust="spacingAndGlyphs">40</text>
<text x="542.2" y="199.5" text-anchor="middle" class="t" textLength="12" lengthAdjust="spacingAndGlyphs">50</text>
<text x="321.2" y="12.95" text-anchor="end" class="t" textLength="21" lengthAdjust="spacingAndGlyphs">2.00</text>
<text x="321.2" y="48.3" text-anchor="end" class="t" textLength="21" lengthAdjust="spacingAndGlyphs">1.98</text>
<text x="321.2" y="83.65" text-anchor="end" class="t" textLength="21" lengthAdjust="spacingAndGlyphs">1.96</text>
<text x="321.2" y="119" text-anchor="end" class="t" textLength="21" lengthAdjust="spacingAndGlyphs">1.94</text>
<text x="321.2" y="154.35" text-anchor="end" class="t" textLength="21" lengthAdjust="spacingAndGlyphs">1.92</text>
<text x="321.2" y="189.7" text-anchor="end" class="t" textLength="21" lengthAdjust="spacingAndGlyphs">1.90</text>
<text x="295" y="96.2" text-anchor="middle" class="it yl" transform="rotate(-90 295 96.2)">ApEn</text>
<text x="435" y="216.2" text-anchor="middle" class="it">a</text>
<rect x="150.7" y="134.3" width="92" height="39" fill="#fff" stroke="#2c2c2c" stroke-width="1.2"/>
<line x1="154.9" y1="144.6" x2="194.6" y2="144.6" stroke="#f00" stroke-width="1"/>
<circle cx="174.75" cy="144.6" r="1.4" fill="#f00"/>
<line x1="154.9" y1="162.4" x2="194.6" y2="162.4" stroke="#00f" stroke-width="1"/>
<rect x="171.95" y="159.6" width="5.6" height="5.6" fill="#fff" stroke="#00f" stroke-width="1"/>
<text y="147" class="lg"><tspan x="198">For</tspan> <tspan x="216.8">{</tspan> <tspan x="224" class="li">x</tspan><tspan x="229.6" y="151.3" class="li sub">i</tspan> <tspan x="232.5" y="147">}</tspan></text>
<text y="164.8" class="lg"><tspan x="198">For</tspan> <tspan x="216.8">{</tspan> <tspan x="224" class="li">y</tspan><tspan x="229.6" y="169.1" class="li sub">i</tspan> <tspan x="232.5" y="164.8">}</tspan></text>
<rect x="432.5" y="13.7" width="105.3" height="41" fill="#fff" stroke="#2c2c2c" stroke-width="1.2"/>
<line x1="442.8" y1="24.4" x2="482.6" y2="24.4" stroke="#f00" stroke-width="1"/>
<circle cx="462.7" cy="24.4" r="1.4" fill="#f00"/>
<line x1="442.8" y1="43.3" x2="482.6" y2="43.3" stroke="#00f" stroke-width="1"/>
<rect x="459.9" y="40.5" width="5.6" height="5.6" fill="#fff" stroke="#00f" stroke-width="1"/>
<text y="26.8" class="lg"><tspan x="486.5">For</tspan> <tspan x="505.3">{</tspan> <tspan x="512.5" class="li">x</tspan><tspan x="518.1" y="31.1" class="li sub">i</tspan> <tspan x="521" y="26.8">}</tspan></text>
<text y="45.7" class="lg"><tspan x="486.5">For</tspan> <tspan x="505.3">{</tspan> <tspan x="512.5" class="li">y</tspan><tspan x="518.1" y="50" class="li sub">i</tspan> <tspan x="521" y="45.7">}</tspan></text>
<text x="135.5" y="239.3" text-anchor="middle" class="cap">(<tspan class="bd">a</tspan>)</text>
<text x="419" y="239.3" text-anchor="middle" class="cap">(<tspan class="bd">b</tspan>)</text>
</svg>
</body></html>
